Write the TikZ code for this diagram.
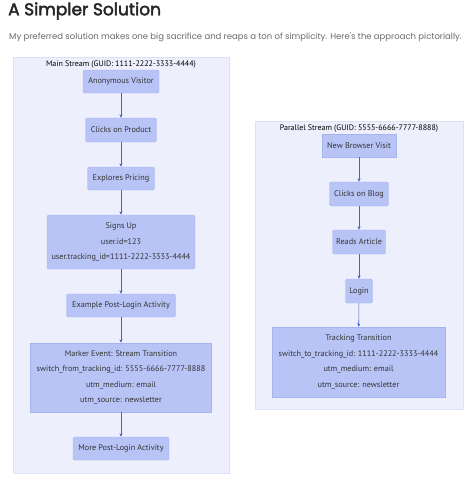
\documentclass[tikz,border=0pt]{standalone}
\usepackage{fontspec}
\setmainfont{PT Sans}
\newfontfamily\headfont[FakeBold=2.5]{Poppins}
\newfontfamily\introfont{Poppins}
\usetikzlibrary{positioning}
\usetikzlibrary{arrows.meta}
\definecolor{boxfill}{HTML}{B8C4F5}
\definecolor{boxline}{HTML}{A6B4EE}
\definecolor{clusterfill}{HTML}{EDF0FC}
\definecolor{clusterline}{HTML}{DCE1F7}
\definecolor{flowline}{HTML}{4B5FCB}
\definecolor{subgray}{HTML}{6B6B6B}
\definecolor{stepink}{HTML}{333333}

\begin{document}
\begin{tikzpicture}[x=1pt, y=-1pt,
                    stepnode/.style={draw=boxline, fill=boxfill, rounded corners=1.5pt, text=stepink,
                        inner sep=0pt, align=center, font=\fontsize{8.2}{15.5}\selectfont},
                    cluster/.style={draw=clusterline, fill=clusterfill},
                    clusterlabel/.style={font=\fontsize{8}{10}\selectfont, inner sep=0pt},
                    flow/.style={draw=flowline, line width=0.6pt, -{Stealth[length=3.5pt,width=3pt]}}]

    \useasboundingbox[fill=white] (0,0) rectangle (474,479);

    % heading
    \node[anchor=west, inner sep=0pt, font=\headfont\fontsize{17}{20}\selectfont, text=black!85] (title) at (8,11) {A Simpler Solution};
    \node[anchor=west, inner sep=0pt, font=\introfont\fontsize{8.5}{10}\selectfont, text=subgray] (intro) at (9,37)
        {My preferred solution makes one big sacrifice and reaps a ton of simplicity. Here's the approach pictorially.};

    % main stream
    \draw[cluster] (13,57) rectangle (229,473);
    \node[clusterlabel] (mainlabel) at (121,65) {Main Stream (GUID: 1111-2222-3333-4444)};

    \node[stepnode, minimum width=76pt, minimum height=23pt] (visitor) at (121,81.5) {Anonymous Visitor};
    \node[stepnode, minimum width=71pt, minimum height=24pt] (product) at (121,130) {Clicks on Product};
    \node[stepnode, minimum width=67pt, minimum height=23pt] (pricing) at (121,178.5) {Explores Pricing};
    \node[stepnode, minimum width=148pt, minimum height=54pt] (signup) at (121,242)
        {Signs Up\\user.id=123\\user.tracking\_id=1111-2222-3333-4444};
    \node[stepnode, minimum width=109pt, minimum height=23pt] (postlogin) at (121,305.5) {Example Post-Login Activity};
    \node[stepnode, minimum width=181pt, minimum height=69pt, rounded corners=0pt] (marker) at (121,377.5)
        {Marker Event: Stream Transition\\switch\_from\_tracking\_id: 5555-6666-7777-8888\\utm\_medium: email\\utm\_source: newsletter};
    \node[stepnode, minimum width=96pt, minimum height=23pt] (morelogin) at (121,448.5) {More Post-Login Activity};

    \draw[flow] (visitor) -- (product);
    \draw[flow] (product) -- (pricing);
    \draw[flow] (pricing) -- (signup);
    \draw[flow] (signup) -- (postlogin);
    \draw[flow] (postlogin) -- (marker);
    \draw[flow] (marker) -- (morelogin);

    % parallel stream
    \draw[cluster] (255,121) rectangle (463,409);
    \node[clusterlabel] (parlabel) at (359,129) {Parallel Stream (GUID: 5555-6666-7777-8888)};

    \node[stepnode, minimum width=74pt, minimum height=23pt, rounded corners=0pt] (browser) at (359,145.5) {New Browser Visit};
    \node[stepnode, minimum width=59pt, minimum height=24pt] (blog) at (359,194) {Clicks on Blog};
    \node[stepnode, minimum width=53pt, minimum height=24pt] (article) at (359,242) {Reads Article};
    \node[stepnode, minimum width=27pt, minimum height=24pt] (login) at (359,291) {Login};
    \node[stepnode, minimum width=173pt, minimum height=70pt, rounded corners=0pt] (tracking) at (358.5,362)
        {Tracking Transition\\switch\_to\_tracking\_id: 1111-2222-3333-4444\\utm\_medium: email\\utm\_source: newsletter};

    \draw[flow] (browser) -- (blog);
    \draw[flow] (blog) -- (article);
    \draw[flow] (article) -- (login);
    \draw[flow] (login) -- (tracking);
\end{tikzpicture}
\end{document}
